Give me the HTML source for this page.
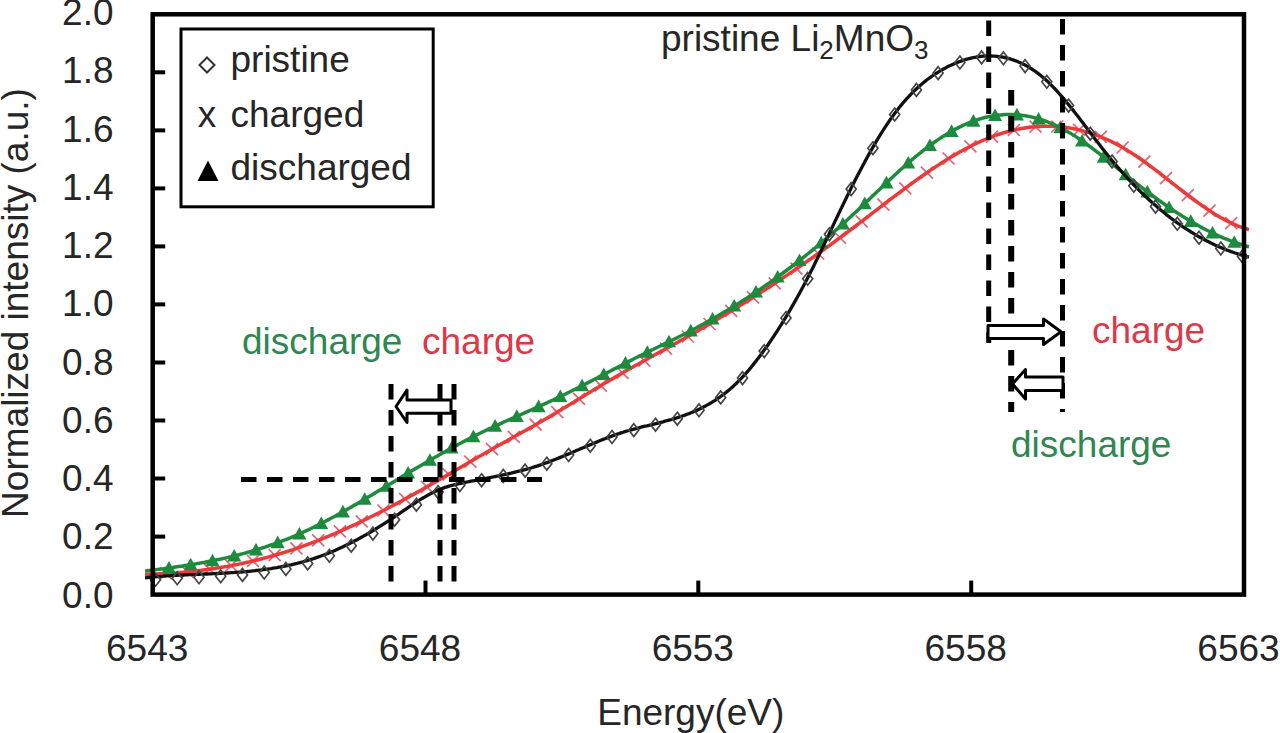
<!DOCTYPE html><html><head><meta charset="utf-8"><style>html,body{margin:0;padding:0;background:#fff;width:1280px;height:733px;overflow:hidden}svg{display:block}text{font-family:"Liberation Sans",sans-serif}</style></head><body>
<svg width="1280" height="733" viewBox="0 0 1280 733">
<rect width="1280" height="733" fill="#fff"/>
<path d="M160.0,567.5 L172.0,579.5 M160.0,579.5 L172.0,567.5" stroke="#e06676" stroke-width="1.7" fill="none"/>
<path d="M181.7,565.8 L193.7,577.8 M181.7,577.8 L193.7,565.8" stroke="#e06676" stroke-width="1.7" fill="none"/>
<path d="M203.5,563.2 L215.5,575.2 M203.5,575.2 L215.5,563.2" stroke="#e06676" stroke-width="1.7" fill="none"/>
<path d="M225.2,559.6 L237.2,571.6 M225.2,571.6 L237.2,559.6" stroke="#e06676" stroke-width="1.7" fill="none"/>
<path d="M247.0,555.0 L259.0,567.0 M247.0,567.0 L259.0,555.0" stroke="#e06676" stroke-width="1.7" fill="none"/>
<path d="M268.7,549.2 L280.7,561.2 M268.7,561.2 L280.7,549.2" stroke="#e06676" stroke-width="1.7" fill="none"/>
<path d="M290.4,542.4 L302.4,554.4 M290.4,554.4 L302.4,542.4" stroke="#e06676" stroke-width="1.7" fill="none"/>
<path d="M312.2,534.4 L324.2,546.4 M312.2,546.4 L324.2,534.4" stroke="#e06676" stroke-width="1.7" fill="none"/>
<path d="M333.9,525.3 L345.9,537.3 M333.9,537.3 L345.9,525.3" stroke="#e06676" stroke-width="1.7" fill="none"/>
<path d="M355.7,515.3 L367.7,527.3 M355.7,527.3 L367.7,515.3" stroke="#e06676" stroke-width="1.7" fill="none"/>
<path d="M377.4,504.5 L389.4,516.5 M377.4,516.5 L389.4,504.5" stroke="#e06676" stroke-width="1.7" fill="none"/>
<path d="M399.1,493.0 L411.1,505.0 M399.1,505.0 L411.1,493.0" stroke="#e06676" stroke-width="1.7" fill="none"/>
<path d="M420.9,480.8 L432.9,492.8 M420.9,492.8 L432.9,480.8" stroke="#e06676" stroke-width="1.7" fill="none"/>
<path d="M442.6,468.3 L454.6,480.3 M442.6,480.3 L454.6,468.3" stroke="#e06676" stroke-width="1.7" fill="none"/>
<path d="M464.4,455.6 L476.4,467.6 M464.4,467.6 L476.4,455.6" stroke="#e06676" stroke-width="1.7" fill="none"/>
<path d="M486.1,443.1 L498.1,455.1 M486.1,455.1 L498.1,443.1" stroke="#e06676" stroke-width="1.7" fill="none"/>
<path d="M507.8,430.9 L519.8,442.9 M507.8,442.9 L519.8,430.9" stroke="#e06676" stroke-width="1.7" fill="none"/>
<path d="M529.6,418.7 L541.6,430.7 M529.6,430.7 L541.6,418.7" stroke="#e06676" stroke-width="1.7" fill="none"/>
<path d="M551.3,406.1 L563.3,418.1 M551.3,418.1 L563.3,406.1" stroke="#e06676" stroke-width="1.7" fill="none"/>
<path d="M573.1,392.9 L585.1,404.9 M573.1,404.9 L585.1,392.9" stroke="#e06676" stroke-width="1.7" fill="none"/>
<path d="M594.8,379.6 L606.8,391.6 M594.8,391.6 L606.8,379.6" stroke="#e06676" stroke-width="1.7" fill="none"/>
<path d="M616.5,366.9 L628.5,378.9 M616.5,378.9 L628.5,366.9" stroke="#e06676" stroke-width="1.7" fill="none"/>
<path d="M638.3,354.6 L650.3,366.6 M638.3,366.6 L650.3,354.6" stroke="#e06676" stroke-width="1.7" fill="none"/>
<path d="M660.0,342.6 L672.0,354.6 M660.0,354.6 L672.0,342.6" stroke="#e06676" stroke-width="1.7" fill="none"/>
<path d="M681.8,330.5 L693.8,342.5 M681.8,342.5 L693.8,330.5" stroke="#e06676" stroke-width="1.7" fill="none"/>
<path d="M703.5,318.0 L715.5,330.0 M703.5,330.0 L715.5,318.0" stroke="#e06676" stroke-width="1.7" fill="none"/>
<path d="M725.2,304.9 L737.2,316.9 M725.2,316.9 L737.2,304.9" stroke="#e06676" stroke-width="1.7" fill="none"/>
<path d="M747.0,291.4 L759.0,303.4 M747.0,303.4 L759.0,291.4" stroke="#e06676" stroke-width="1.7" fill="none"/>
<path d="M768.7,277.3 L780.7,289.3 M768.7,289.3 L780.7,277.3" stroke="#e06676" stroke-width="1.7" fill="none"/>
<path d="M790.5,262.7 L802.5,274.7 M790.5,274.7 L802.5,262.7" stroke="#e06676" stroke-width="1.7" fill="none"/>
<path d="M812.2,247.5 L824.2,259.5 M812.2,259.5 L824.2,247.5" stroke="#e06676" stroke-width="1.7" fill="none"/>
<path d="M833.9,231.7 L845.9,243.7 M833.9,243.7 L845.9,231.7" stroke="#e06676" stroke-width="1.7" fill="none"/>
<path d="M855.7,215.4 L867.7,227.4 M855.7,227.4 L867.7,215.4" stroke="#e06676" stroke-width="1.7" fill="none"/>
<path d="M877.4,198.7 L889.4,210.7 M877.4,210.7 L889.4,198.7" stroke="#e06676" stroke-width="1.7" fill="none"/>
<path d="M899.2,182.3 L911.2,194.3 M899.2,194.3 L911.2,182.3" stroke="#e06676" stroke-width="1.7" fill="none"/>
<path d="M920.9,166.7 L932.9,178.7 M920.9,178.7 L932.9,166.7" stroke="#e06676" stroke-width="1.7" fill="none"/>
<path d="M942.6,152.5 L954.6,164.5 M942.6,164.5 L954.6,152.5" stroke="#e06676" stroke-width="1.7" fill="none"/>
<path d="M964.4,140.3 L976.4,152.3 M964.4,152.3 L976.4,140.3" stroke="#e06676" stroke-width="1.7" fill="none"/>
<path d="M986.1,130.7 L998.1,142.7 M986.1,142.7 L998.1,130.7" stroke="#e06676" stroke-width="1.7" fill="none"/>
<path d="M1007.9,124.0 L1019.9,136.0 M1007.9,136.0 L1019.9,124.0" stroke="#e06676" stroke-width="1.7" fill="none"/>
<path d="M1029.6,120.6 L1041.6,132.6 M1029.6,132.6 L1041.6,120.6" stroke="#e06676" stroke-width="1.7" fill="none"/>
<path d="M1051.3,120.5 L1063.3,132.5 M1051.3,132.5 L1063.3,120.5" stroke="#e06676" stroke-width="1.7" fill="none"/>
<path d="M1073.1,123.9 L1085.1,135.9 M1073.1,135.9 L1085.1,123.9" stroke="#e06676" stroke-width="1.7" fill="none"/>
<path d="M1094.8,130.9 L1106.8,142.9 M1094.8,142.9 L1106.8,130.9" stroke="#e06676" stroke-width="1.7" fill="none"/>
<path d="M1116.6,141.5 L1128.6,153.5 M1116.6,153.5 L1128.6,141.5" stroke="#e06676" stroke-width="1.7" fill="none"/>
<path d="M1138.3,155.7 L1150.3,167.7 M1138.3,167.7 L1150.3,155.7" stroke="#e06676" stroke-width="1.7" fill="none"/>
<path d="M1160.0,172.2 L1172.0,184.2 M1160.0,184.2 L1172.0,172.2" stroke="#e06676" stroke-width="1.7" fill="none"/>
<path d="M1181.8,189.1 L1193.8,201.1 M1181.8,201.1 L1193.8,189.1" stroke="#e06676" stroke-width="1.7" fill="none"/>
<path d="M1203.5,204.7 L1215.5,216.7 M1203.5,216.7 L1215.5,204.7" stroke="#e06676" stroke-width="1.7" fill="none"/>
<path d="M1225.3,217.1 L1237.3,229.1 M1225.3,229.1 L1237.3,217.1" stroke="#e06676" stroke-width="1.7" fill="none"/>
<path d="M145.0,574.2 L147.0,574.2 L149.0,574.2 L151.0,574.1 L153.0,574.0 L155.0,574.0 L157.0,573.9 L159.0,573.8 L161.0,573.7 L163.0,573.6 L165.0,573.5 L167.0,573.4 L169.0,573.3 L171.0,573.2 L173.0,573.1 L175.0,572.9 L177.0,572.8 L179.0,572.6 L181.0,572.4 L183.0,572.3 L185.0,572.1 L187.0,571.9 L189.0,571.7 L191.0,571.5 L193.0,571.3 L195.0,571.1 L197.0,570.8 L199.0,570.6 L201.0,570.4 L203.0,570.1 L205.0,569.8 L207.0,569.6 L209.0,569.3 L211.0,569.0 L213.0,568.7 L215.0,568.4 L217.0,568.1 L219.0,567.8 L221.0,567.4 L223.0,567.1 L225.0,566.7 L227.0,566.4 L229.0,566.0 L231.0,565.7 L233.0,565.3 L235.0,564.9 L237.0,564.5 L239.0,564.1 L241.0,563.7 L243.0,563.2 L245.0,562.8 L247.0,562.3 L249.0,561.9 L251.0,561.4 L253.0,561.0 L255.0,560.5 L257.0,560.0 L259.0,559.5 L261.0,559.0 L263.0,558.5 L265.0,557.9 L267.0,557.4 L269.0,556.9 L271.0,556.3 L273.0,555.7 L275.0,555.2 L277.0,554.6 L279.0,554.0 L281.0,553.4 L283.0,552.8 L285.0,552.1 L287.0,551.5 L289.0,550.9 L291.0,550.2 L293.0,549.6 L295.0,548.9 L297.0,548.2 L299.0,547.5 L301.0,546.8 L303.0,546.1 L305.0,545.4 L307.0,544.6 L309.0,543.9 L311.0,543.2 L313.0,542.4 L315.0,541.6 L317.0,540.9 L319.0,540.1 L321.0,539.3 L323.0,538.5 L325.0,537.7 L327.0,536.8 L329.0,536.0 L331.0,535.2 L333.0,534.3 L335.0,533.5 L337.0,532.6 L339.0,531.7 L341.0,530.9 L343.0,530.0 L345.0,529.1 L347.0,528.2 L349.0,527.3 L351.0,526.3 L353.0,525.4 L355.0,524.5 L357.0,523.6 L359.0,522.6 L361.0,521.6 L363.0,520.7 L365.0,519.7 L367.0,518.7 L369.0,517.8 L371.0,516.8 L373.0,515.8 L375.0,514.8 L377.0,513.8 L379.0,512.8 L381.0,511.7 L383.0,510.7 L385.0,509.7 L387.0,508.6 L389.0,507.6 L391.0,506.5 L393.0,505.5 L395.0,504.4 L397.0,503.4 L399.0,502.3 L401.0,501.2 L403.0,500.1 L405.0,499.0 L407.0,497.9 L409.0,496.8 L411.0,495.7 L413.0,494.6 L415.0,493.5 L417.0,492.4 L419.0,491.3 L421.0,490.2 L423.0,489.0 L425.0,487.9 L427.0,486.8 L429.0,485.6 L431.0,484.5 L433.0,483.3 L435.0,482.2 L437.0,481.0 L439.0,479.9 L441.0,478.7 L443.0,477.6 L445.0,476.4 L447.0,475.2 L449.0,474.1 L451.0,472.9 L453.0,471.7 L455.0,470.6 L457.0,469.4 L459.0,468.2 L461.0,467.1 L463.0,465.9 L465.0,464.7 L467.0,463.6 L469.0,462.4 L471.0,461.2 L473.0,460.1 L475.0,458.9 L477.0,457.8 L479.0,456.6 L481.0,455.5 L483.0,454.3 L485.0,453.2 L487.0,452.0 L489.0,450.9 L491.0,449.7 L493.0,448.6 L495.0,447.5 L497.0,446.3 L499.0,445.2 L501.0,444.1 L503.0,443.0 L505.0,441.9 L507.0,440.7 L509.0,439.6 L511.0,438.5 L513.0,437.4 L515.0,436.3 L517.0,435.2 L519.0,434.0 L521.0,432.9 L523.0,431.8 L525.0,430.7 L527.0,429.6 L529.0,428.4 L531.0,427.3 L533.0,426.2 L535.0,425.1 L537.0,423.9 L539.0,422.8 L541.0,421.6 L543.0,420.5 L545.0,419.3 L547.0,418.2 L549.0,417.0 L551.0,415.8 L553.0,414.6 L555.0,413.4 L557.0,412.3 L559.0,411.1 L561.0,409.9 L563.0,408.6 L565.0,407.4 L567.0,406.2 L569.0,405.0 L571.0,403.8 L573.0,402.6 L575.0,401.3 L577.0,400.1 L579.0,398.9 L581.0,397.7 L583.0,396.4 L585.0,395.2 L587.0,394.0 L589.0,392.8 L591.0,391.6 L593.0,390.3 L595.0,389.1 L597.0,387.9 L599.0,386.7 L601.0,385.5 L603.0,384.3 L605.0,383.1 L607.0,381.9 L609.0,380.7 L611.0,379.5 L613.0,378.4 L615.0,377.2 L617.0,376.0 L619.0,374.9 L621.0,373.7 L623.0,372.6 L625.0,371.4 L627.0,370.3 L629.0,369.2 L631.0,368.1 L633.0,366.9 L635.0,365.8 L637.0,364.7 L639.0,363.6 L641.0,362.5 L643.0,361.3 L645.0,360.2 L647.0,359.1 L649.0,358.0 L651.0,356.9 L653.0,355.8 L655.0,354.7 L657.0,353.6 L659.0,352.5 L661.0,351.4 L663.0,350.3 L665.0,349.2 L667.0,348.1 L669.0,347.0 L671.0,345.9 L673.0,344.8 L675.0,343.7 L677.0,342.6 L679.0,341.4 L681.0,340.3 L683.0,339.2 L685.0,338.1 L687.0,336.9 L689.0,335.8 L691.0,334.7 L693.0,333.5 L695.0,332.4 L697.0,331.2 L699.0,330.1 L701.0,328.9 L703.0,327.8 L705.0,326.6 L707.0,325.4 L709.0,324.3 L711.0,323.1 L713.0,321.9 L715.0,320.7 L717.0,319.5 L719.0,318.3 L721.0,317.1 L723.0,315.9 L725.0,314.7 L727.0,313.5 L729.0,312.3 L731.0,311.1 L733.0,309.9 L735.0,308.6 L737.0,307.4 L739.0,306.2 L741.0,304.9 L743.0,303.7 L745.0,302.4 L747.0,301.2 L749.0,299.9 L751.0,298.7 L753.0,297.4 L755.0,296.1 L757.0,294.8 L759.0,293.6 L761.0,292.3 L763.0,291.0 L765.0,289.7 L767.0,288.4 L769.0,287.1 L771.0,285.8 L773.0,284.5 L775.0,283.2 L777.0,281.8 L779.0,280.5 L781.0,279.2 L783.0,277.8 L785.0,276.5 L787.0,275.1 L789.0,273.8 L791.0,272.4 L793.0,271.1 L795.0,269.7 L797.0,268.3 L799.0,267.0 L801.0,265.6 L803.0,264.2 L805.0,262.8 L807.0,261.4 L809.0,260.0 L811.0,258.6 L813.0,257.2 L815.0,255.8 L817.0,254.4 L819.0,253.0 L821.0,251.5 L823.0,250.1 L825.0,248.7 L827.0,247.2 L829.0,245.8 L831.0,244.3 L833.0,242.9 L835.0,241.4 L837.0,239.9 L839.0,238.4 L841.0,237.0 L843.0,235.5 L845.0,234.0 L847.0,232.5 L849.0,231.0 L851.0,229.5 L853.0,228.0 L855.0,226.5 L857.0,224.9 L859.0,223.4 L861.0,221.9 L863.0,220.4 L865.0,218.8 L867.0,217.3 L869.0,215.8 L871.0,214.2 L873.0,212.7 L875.0,211.2 L877.0,209.6 L879.0,208.1 L881.0,206.5 L883.0,205.0 L885.0,203.5 L887.0,202.0 L889.0,200.4 L891.0,198.9 L893.0,197.4 L895.0,195.9 L897.0,194.4 L899.0,192.9 L901.0,191.4 L903.0,189.9 L905.0,188.4 L907.0,186.9 L909.0,185.4 L911.0,184.0 L913.0,182.5 L915.0,181.1 L917.0,179.6 L919.0,178.2 L921.0,176.8 L923.0,175.4 L925.0,174.0 L927.0,172.6 L929.0,171.3 L931.0,169.9 L933.0,168.5 L935.0,167.2 L937.0,165.9 L939.0,164.6 L941.0,163.3 L943.0,162.0 L945.0,160.8 L947.0,159.5 L949.0,158.3 L951.0,157.1 L953.0,155.9 L955.0,154.7 L957.0,153.6 L959.0,152.4 L961.0,151.3 L963.0,150.2 L965.0,149.1 L967.0,148.1 L969.0,147.0 L971.0,146.0 L973.0,145.0 L975.0,144.0 L977.0,143.1 L979.0,142.2 L981.0,141.2 L983.0,140.4 L985.0,139.5 L987.0,138.7 L989.0,137.9 L991.0,137.1 L993.0,136.3 L995.0,135.6 L997.0,134.9 L999.0,134.2 L1001.0,133.6 L1003.0,133.0 L1005.0,132.4 L1007.0,131.8 L1009.0,131.3 L1011.0,130.7 L1013.0,130.2 L1015.0,129.8 L1017.0,129.4 L1019.0,128.9 L1021.0,128.6 L1023.0,128.2 L1025.0,127.9 L1027.0,127.6 L1029.0,127.3 L1031.0,127.1 L1033.0,126.9 L1035.0,126.7 L1037.0,126.5 L1039.0,126.4 L1041.0,126.3 L1043.0,126.2 L1045.0,126.2 L1047.0,126.2 L1049.0,126.2 L1051.0,126.2 L1053.0,126.3 L1055.0,126.4 L1057.0,126.5 L1059.0,126.7 L1061.0,126.9 L1063.0,127.1 L1065.0,127.3 L1067.0,127.6 L1069.0,127.9 L1071.0,128.3 L1073.0,128.6 L1075.0,129.0 L1077.0,129.4 L1079.0,129.9 L1081.0,130.4 L1083.0,130.9 L1085.0,131.4 L1087.0,132.0 L1089.0,132.6 L1091.0,133.3 L1093.0,133.9 L1095.0,134.6 L1097.0,135.4 L1099.0,136.1 L1101.0,136.9 L1103.0,137.8 L1105.0,138.6 L1107.0,139.5 L1109.0,140.4 L1111.0,141.4 L1113.0,142.4 L1115.0,143.4 L1117.0,144.4 L1119.0,145.5 L1121.0,146.6 L1123.0,147.7 L1125.0,148.9 L1127.0,150.1 L1129.0,151.4 L1131.0,152.6 L1133.0,153.9 L1135.0,155.3 L1137.0,156.6 L1139.0,158.0 L1141.0,159.4 L1143.0,160.8 L1145.0,162.2 L1147.0,163.7 L1149.0,165.2 L1151.0,166.7 L1153.0,168.2 L1155.0,169.7 L1157.0,171.2 L1159.0,172.7 L1161.0,174.3 L1163.0,175.8 L1165.0,177.4 L1167.0,179.0 L1169.0,180.5 L1171.0,182.1 L1173.0,183.7 L1175.0,185.2 L1177.0,186.8 L1179.0,188.3 L1181.0,189.9 L1183.0,191.5 L1185.0,193.0 L1187.0,194.5 L1189.0,196.0 L1191.0,197.5 L1193.0,199.0 L1195.0,200.5 L1197.0,202.0 L1199.0,203.4 L1201.0,204.8 L1203.0,206.3 L1205.0,207.6 L1207.0,209.0 L1209.0,210.3 L1211.0,211.6 L1213.0,212.9 L1215.0,214.2 L1217.0,215.4 L1219.0,216.6 L1221.0,217.7 L1223.0,218.8 L1225.0,219.9 L1227.0,221.0 L1229.0,222.0 L1231.0,222.9 L1233.0,223.9 L1235.0,224.7 L1237.0,225.6 L1239.0,226.4 L1241.0,227.1 L1243.0,227.8 L1245.0,228.4 L1247.0,229.0 L1249.0,229.6" fill="none" stroke="#ea3a3a" stroke-width="3.5" stroke-linejoin="round"/>
<path d="M145.0,571.0 L147.0,570.8 L149.0,570.5 L151.0,570.3 L153.0,570.0 L155.0,569.8 L157.0,569.5 L159.0,569.3 L161.0,569.0 L163.0,568.8 L165.0,568.5 L167.0,568.2 L169.0,568.0 L171.0,567.7 L173.0,567.4 L175.0,567.1 L177.0,566.8 L179.0,566.5 L181.0,566.2 L183.0,565.9 L185.0,565.6 L187.0,565.3 L189.0,565.0 L191.0,564.7 L193.0,564.3 L195.0,564.0 L197.0,563.6 L199.0,563.3 L201.0,562.9 L203.0,562.6 L205.0,562.2 L207.0,561.8 L209.0,561.4 L211.0,561.0 L213.0,560.6 L215.0,560.2 L217.0,559.8 L219.0,559.4 L221.0,559.0 L223.0,558.5 L225.0,558.1 L227.0,557.6 L229.0,557.1 L231.0,556.7 L233.0,556.2 L235.0,555.7 L237.0,555.2 L239.0,554.7 L241.0,554.1 L243.0,553.6 L245.0,553.1 L247.0,552.5 L249.0,552.0 L251.0,551.4 L253.0,550.8 L255.0,550.2 L257.0,549.6 L259.0,549.0 L261.0,548.4 L263.0,547.7 L265.0,547.1 L267.0,546.4 L269.0,545.7 L271.0,545.0 L273.0,544.3 L275.0,543.6 L277.0,542.9 L279.0,542.2 L281.0,541.4 L283.0,540.6 L285.0,539.9 L287.0,539.1 L289.0,538.3 L291.0,537.5 L293.0,536.6 L295.0,535.8 L297.0,534.9 L299.0,534.0 L301.0,533.2 L303.0,532.3 L305.0,531.3 L307.0,530.4 L309.0,529.5 L311.0,528.5 L313.0,527.5 L315.0,526.6 L317.0,525.6 L319.0,524.6 L321.0,523.6 L323.0,522.5 L325.0,521.5 L327.0,520.4 L329.0,519.4 L331.0,518.3 L333.0,517.2 L335.0,516.2 L337.0,515.1 L339.0,514.0 L341.0,512.9 L343.0,511.7 L345.0,510.6 L347.0,509.5 L349.0,508.3 L351.0,507.2 L353.0,506.0 L355.0,504.9 L357.0,503.7 L359.0,502.6 L361.0,501.4 L363.0,500.2 L365.0,499.0 L367.0,497.8 L369.0,496.6 L371.0,495.4 L373.0,494.2 L375.0,493.0 L377.0,491.8 L379.0,490.6 L381.0,489.4 L383.0,488.2 L385.0,487.0 L387.0,485.8 L389.0,484.6 L391.0,483.4 L393.0,482.2 L395.0,481.0 L397.0,479.8 L399.0,478.5 L401.0,477.3 L403.0,476.1 L405.0,474.9 L407.0,473.7 L409.0,472.5 L411.0,471.3 L413.0,470.1 L415.0,468.9 L417.0,467.8 L419.0,466.6 L421.0,465.4 L423.0,464.2 L425.0,463.1 L427.0,461.9 L429.0,460.7 L431.0,459.6 L433.0,458.4 L435.0,457.3 L437.0,456.2 L439.0,455.0 L441.0,453.9 L443.0,452.8 L445.0,451.7 L447.0,450.6 L449.0,449.5 L451.0,448.4 L453.0,447.3 L455.0,446.2 L457.0,445.1 L459.0,444.0 L461.0,443.0 L463.0,441.9 L465.0,440.9 L467.0,439.8 L469.0,438.8 L471.0,437.8 L473.0,436.8 L475.0,435.8 L477.0,434.8 L479.0,433.8 L481.0,432.8 L483.0,431.8 L485.0,430.8 L487.0,429.9 L489.0,428.9 L491.0,428.0 L493.0,427.0 L495.0,426.1 L497.0,425.2 L499.0,424.3 L501.0,423.4 L503.0,422.4 L505.0,421.5 L507.0,420.7 L509.0,419.8 L511.0,418.9 L513.0,418.0 L515.0,417.1 L517.0,416.2 L519.0,415.3 L521.0,414.5 L523.0,413.6 L525.0,412.7 L527.0,411.8 L529.0,410.9 L531.0,410.0 L533.0,409.1 L535.0,408.2 L537.0,407.3 L539.0,406.4 L541.0,405.5 L543.0,404.6 L545.0,403.7 L547.0,402.8 L549.0,401.8 L551.0,400.9 L553.0,400.0 L555.0,399.0 L557.0,398.1 L559.0,397.1 L561.0,396.1 L563.0,395.2 L565.0,394.2 L567.0,393.2 L569.0,392.2 L571.0,391.2 L573.0,390.2 L575.0,389.2 L577.0,388.2 L579.0,387.2 L581.0,386.2 L583.0,385.2 L585.0,384.2 L587.0,383.1 L589.0,382.1 L591.0,381.1 L593.0,380.0 L595.0,379.0 L597.0,378.0 L599.0,376.9 L601.0,375.9 L603.0,374.8 L605.0,373.8 L607.0,372.8 L609.0,371.7 L611.0,370.7 L613.0,369.6 L615.0,368.6 L617.0,367.6 L619.0,366.5 L621.0,365.5 L623.0,364.5 L625.0,363.4 L627.0,362.4 L629.0,361.4 L631.0,360.4 L633.0,359.3 L635.0,358.3 L637.0,357.3 L639.0,356.3 L641.0,355.3 L643.0,354.3 L645.0,353.4 L647.0,352.4 L649.0,351.4 L651.0,350.4 L653.0,349.5 L655.0,348.5 L657.0,347.5 L659.0,346.5 L661.0,345.6 L663.0,344.6 L665.0,343.6 L667.0,342.7 L669.0,341.7 L671.0,340.7 L673.0,339.7 L675.0,338.7 L677.0,337.8 L679.0,336.8 L681.0,335.8 L683.0,334.8 L685.0,333.7 L687.0,332.7 L689.0,331.7 L691.0,330.6 L693.0,329.6 L695.0,328.5 L697.0,327.5 L699.0,326.4 L701.0,325.3 L703.0,324.2 L705.0,323.1 L707.0,322.0 L709.0,320.9 L711.0,319.8 L713.0,318.6 L715.0,317.5 L717.0,316.3 L719.0,315.2 L721.0,314.0 L723.0,312.8 L725.0,311.6 L727.0,310.4 L729.0,309.2 L731.0,308.0 L733.0,306.8 L735.0,305.6 L737.0,304.3 L739.0,303.1 L741.0,301.8 L743.0,300.5 L745.0,299.2 L747.0,298.0 L749.0,296.7 L751.0,295.3 L753.0,294.0 L755.0,292.7 L757.0,291.3 L759.0,290.0 L761.0,288.6 L763.0,287.3 L765.0,285.9 L767.0,284.5 L769.0,283.1 L771.0,281.7 L773.0,280.3 L775.0,278.8 L777.0,277.4 L779.0,275.9 L781.0,274.5 L783.0,273.0 L785.0,271.5 L787.0,270.0 L789.0,268.5 L791.0,267.0 L793.0,265.5 L795.0,264.0 L797.0,262.4 L799.0,260.8 L801.0,259.3 L803.0,257.7 L805.0,256.1 L807.0,254.5 L809.0,252.9 L811.0,251.3 L813.0,249.6 L815.0,248.0 L817.0,246.3 L819.0,244.7 L821.0,243.0 L823.0,241.3 L825.0,239.6 L827.0,237.9 L829.0,236.2 L831.0,234.4 L833.0,232.7 L835.0,230.9 L837.0,229.2 L839.0,227.4 L841.0,225.6 L843.0,223.8 L845.0,222.0 L847.0,220.2 L849.0,218.3 L851.0,216.5 L853.0,214.6 L855.0,212.7 L857.0,210.9 L859.0,209.0 L861.0,207.1 L863.0,205.2 L865.0,203.3 L867.0,201.3 L869.0,199.4 L871.0,197.5 L873.0,195.6 L875.0,193.7 L877.0,191.8 L879.0,189.9 L881.0,188.0 L883.0,186.1 L885.0,184.2 L887.0,182.3 L889.0,180.4 L891.0,178.5 L893.0,176.7 L895.0,174.8 L897.0,173.0 L899.0,171.1 L901.0,169.3 L903.0,167.5 L905.0,165.8 L907.0,164.0 L909.0,162.3 L911.0,160.5 L913.0,158.8 L915.0,157.2 L917.0,155.5 L919.0,153.9 L921.0,152.3 L923.0,150.7 L925.0,149.1 L927.0,147.6 L929.0,146.1 L931.0,144.7 L933.0,143.2 L935.0,141.8 L937.0,140.4 L939.0,139.1 L941.0,137.8 L943.0,136.5 L945.0,135.2 L947.0,134.0 L949.0,132.8 L951.0,131.6 L953.0,130.5 L955.0,129.4 L957.0,128.4 L959.0,127.3 L961.0,126.4 L963.0,125.4 L965.0,124.5 L967.0,123.6 L969.0,122.8 L971.0,122.0 L973.0,121.2 L975.0,120.5 L977.0,119.8 L979.0,119.2 L981.0,118.6 L983.0,118.0 L985.0,117.5 L987.0,117.0 L989.0,116.6 L991.0,116.2 L993.0,115.9 L995.0,115.5 L997.0,115.3 L999.0,115.1 L1001.0,114.9 L1003.0,114.7 L1005.0,114.6 L1007.0,114.5 L1009.0,114.5 L1011.0,114.5 L1013.0,114.6 L1015.0,114.7 L1017.0,114.8 L1019.0,115.0 L1021.0,115.2 L1023.0,115.5 L1025.0,115.8 L1027.0,116.1 L1029.0,116.5 L1031.0,116.9 L1033.0,117.4 L1035.0,117.9 L1037.0,118.4 L1039.0,119.0 L1041.0,119.6 L1043.0,120.2 L1045.0,120.9 L1047.0,121.7 L1049.0,122.5 L1051.0,123.3 L1053.0,124.1 L1055.0,125.0 L1057.0,126.0 L1059.0,126.9 L1061.0,128.0 L1063.0,129.0 L1065.0,130.1 L1067.0,131.2 L1069.0,132.4 L1071.0,133.6 L1073.0,134.9 L1075.0,136.1 L1077.0,137.4 L1079.0,138.8 L1081.0,140.1 L1083.0,141.5 L1085.0,142.9 L1087.0,144.3 L1089.0,145.8 L1091.0,147.3 L1093.0,148.8 L1095.0,150.3 L1097.0,151.8 L1099.0,153.4 L1101.0,154.9 L1103.0,156.5 L1105.0,158.1 L1107.0,159.7 L1109.0,161.3 L1111.0,162.9 L1113.0,164.5 L1115.0,166.1 L1117.0,167.8 L1119.0,169.4 L1121.0,171.0 L1123.0,172.6 L1125.0,174.2 L1127.0,175.9 L1129.0,177.5 L1131.0,179.1 L1133.0,180.7 L1135.0,182.3 L1137.0,183.8 L1139.0,185.4 L1141.0,187.0 L1143.0,188.5 L1145.0,190.0 L1147.0,191.5 L1149.0,193.1 L1151.0,194.5 L1153.0,196.0 L1155.0,197.5 L1157.0,199.0 L1159.0,200.4 L1161.0,201.8 L1163.0,203.2 L1165.0,204.7 L1167.0,206.0 L1169.0,207.4 L1171.0,208.8 L1173.0,210.1 L1175.0,211.4 L1177.0,212.7 L1179.0,214.0 L1181.0,215.3 L1183.0,216.6 L1185.0,217.8 L1187.0,219.0 L1189.0,220.2 L1191.0,221.4 L1193.0,222.6 L1195.0,223.8 L1197.0,224.9 L1199.0,226.0 L1201.0,227.1 L1203.0,228.2 L1205.0,229.2 L1207.0,230.3 L1209.0,231.3 L1211.0,232.3 L1213.0,233.2 L1215.0,234.2 L1217.0,235.1 L1219.0,236.0 L1221.0,236.9 L1223.0,237.8 L1225.0,238.6 L1227.0,239.4 L1229.0,240.2 L1231.0,241.0 L1233.0,241.7 L1235.0,242.4 L1237.0,243.1 L1239.0,243.8 L1241.0,244.4 L1243.0,245.0 L1245.0,245.6 L1247.0,246.2 L1249.0,246.7" fill="none" stroke="#1d8a3e" stroke-width="3.5" stroke-linejoin="round"/>
<path d="M169.0,561.0 L176.0,573.6 L162.0,573.6 Z" fill="#1d8a3e"/>
<path d="M190.7,557.7 L197.7,570.3 L183.7,570.3 Z" fill="#1d8a3e"/>
<path d="M212.5,553.7 L219.5,566.3 L205.5,566.3 Z" fill="#1d8a3e"/>
<path d="M234.2,548.9 L241.2,561.5 L227.2,561.5 Z" fill="#1d8a3e"/>
<path d="M256.0,542.9 L263.0,555.5 L249.0,555.5 Z" fill="#1d8a3e"/>
<path d="M277.7,535.6 L284.7,548.2 L270.7,548.2 Z" fill="#1d8a3e"/>
<path d="M299.4,526.9 L306.4,539.5 L292.4,539.5 Z" fill="#1d8a3e"/>
<path d="M321.2,516.5 L328.2,529.1 L314.2,529.1 Z" fill="#1d8a3e"/>
<path d="M342.9,504.8 L349.9,517.4 L335.9,517.4 Z" fill="#1d8a3e"/>
<path d="M364.7,492.2 L371.7,504.8 L357.7,504.8 Z" fill="#1d8a3e"/>
<path d="M386.4,479.2 L393.4,491.8 L379.4,491.8 Z" fill="#1d8a3e"/>
<path d="M408.1,466.0 L415.1,478.6 L401.1,478.6 Z" fill="#1d8a3e"/>
<path d="M429.9,453.2 L436.9,465.8 L422.9,465.8 Z" fill="#1d8a3e"/>
<path d="M451.6,441.0 L458.6,453.6 L444.6,453.6 Z" fill="#1d8a3e"/>
<path d="M473.4,429.6 L480.4,442.2 L466.4,442.2 Z" fill="#1d8a3e"/>
<path d="M495.1,419.1 L502.1,431.7 L488.1,431.7 Z" fill="#1d8a3e"/>
<path d="M516.8,409.3 L523.8,421.9 L509.8,421.9 Z" fill="#1d8a3e"/>
<path d="M538.6,399.6 L545.6,412.2 L531.6,412.2 Z" fill="#1d8a3e"/>
<path d="M560.3,389.5 L567.3,402.1 L553.3,402.1 Z" fill="#1d8a3e"/>
<path d="M582.1,378.7 L589.1,391.3 L575.1,391.3 Z" fill="#1d8a3e"/>
<path d="M603.8,367.4 L610.8,380.0 L596.8,380.0 Z" fill="#1d8a3e"/>
<path d="M625.5,356.1 L632.5,368.7 L618.5,368.7 Z" fill="#1d8a3e"/>
<path d="M647.3,345.2 L654.3,357.8 L640.3,357.8 Z" fill="#1d8a3e"/>
<path d="M669.0,334.7 L676.0,347.3 L662.0,347.3 Z" fill="#1d8a3e"/>
<path d="M690.8,323.8 L697.8,336.4 L683.8,336.4 Z" fill="#1d8a3e"/>
<path d="M712.5,311.9 L719.5,324.5 L705.5,324.5 Z" fill="#1d8a3e"/>
<path d="M734.2,299.0 L741.2,311.6 L727.2,311.6 Z" fill="#1d8a3e"/>
<path d="M756.0,285.0 L763.0,297.6 L749.0,297.6 Z" fill="#1d8a3e"/>
<path d="M777.7,269.9 L784.7,282.5 L770.7,282.5 Z" fill="#1d8a3e"/>
<path d="M799.5,253.5 L806.5,266.1 L792.5,266.1 Z" fill="#1d8a3e"/>
<path d="M821.2,235.8 L828.2,248.4 L814.2,248.4 Z" fill="#1d8a3e"/>
<path d="M842.9,216.9 L849.9,229.5 L835.9,229.5 Z" fill="#1d8a3e"/>
<path d="M864.7,196.6 L871.7,209.2 L857.7,209.2 Z" fill="#1d8a3e"/>
<path d="M886.4,175.8 L893.4,188.4 L879.4,188.4 Z" fill="#1d8a3e"/>
<path d="M908.2,156.0 L915.2,168.6 L901.2,168.6 Z" fill="#1d8a3e"/>
<path d="M929.9,138.5 L936.9,151.1 L922.9,151.1 Z" fill="#1d8a3e"/>
<path d="M951.6,124.3 L958.6,136.9 L944.6,136.9 Z" fill="#1d8a3e"/>
<path d="M973.4,114.1 L980.4,126.7 L966.4,126.7 Z" fill="#1d8a3e"/>
<path d="M995.1,108.5 L1002.1,121.1 L988.1,121.1 Z" fill="#1d8a3e"/>
<path d="M1016.9,107.8 L1023.9,120.4 L1009.9,120.4 Z" fill="#1d8a3e"/>
<path d="M1038.6,111.9 L1045.6,124.5 L1031.6,124.5 Z" fill="#1d8a3e"/>
<path d="M1060.3,120.6 L1067.3,133.2 L1053.3,133.2 Z" fill="#1d8a3e"/>
<path d="M1082.1,133.9 L1089.1,146.5 L1075.1,146.5 Z" fill="#1d8a3e"/>
<path d="M1103.8,150.1 L1110.8,162.7 L1096.8,162.7 Z" fill="#1d8a3e"/>
<path d="M1125.6,167.7 L1132.6,180.3 L1118.6,180.3 Z" fill="#1d8a3e"/>
<path d="M1147.3,184.8 L1154.3,197.4 L1140.3,197.4 Z" fill="#1d8a3e"/>
<path d="M1169.0,200.4 L1176.0,213.0 L1162.0,213.0 Z" fill="#1d8a3e"/>
<path d="M1190.8,214.3 L1197.8,226.9 L1183.8,226.9 Z" fill="#1d8a3e"/>
<path d="M1212.5,226.0 L1219.5,238.6 L1205.5,238.6 Z" fill="#1d8a3e"/>
<path d="M1234.3,235.2 L1241.3,247.8 L1227.3,247.8 Z" fill="#1d8a3e"/>
<path d="M145.0,577.8 L147.0,577.6 L149.0,577.4 L151.0,577.2 L153.0,577.0 L155.0,576.8 L157.0,576.6 L159.0,576.5 L161.0,576.3 L163.0,576.2 L165.0,576.0 L167.0,575.9 L169.0,575.8 L171.0,575.7 L173.0,575.5 L175.0,575.4 L177.0,575.3 L179.0,575.2 L181.0,575.1 L183.0,575.0 L185.0,574.9 L187.0,574.8 L189.0,574.7 L191.0,574.6 L193.0,574.6 L195.0,574.5 L197.0,574.4 L199.0,574.3 L201.0,574.2 L203.0,574.1 L205.0,574.0 L207.0,574.0 L209.0,573.9 L211.0,573.8 L213.0,573.7 L215.0,573.6 L217.0,573.5 L219.0,573.4 L221.0,573.3 L223.0,573.2 L225.0,573.1 L227.0,573.0 L229.0,572.8 L231.0,572.7 L233.0,572.6 L235.0,572.4 L237.0,572.3 L239.0,572.1 L241.0,572.0 L243.0,571.8 L245.0,571.6 L247.0,571.5 L249.0,571.3 L251.0,571.1 L253.0,570.9 L255.0,570.7 L257.0,570.4 L259.0,570.2 L261.0,570.0 L263.0,569.7 L265.0,569.4 L267.0,569.2 L269.0,568.9 L271.0,568.6 L273.0,568.2 L275.0,567.9 L277.0,567.6 L279.0,567.2 L281.0,566.8 L283.0,566.5 L285.0,566.1 L287.0,565.7 L289.0,565.2 L291.0,564.8 L293.0,564.3 L295.0,563.8 L297.0,563.4 L299.0,562.8 L301.0,562.3 L303.0,561.8 L305.0,561.2 L307.0,560.6 L309.0,560.0 L311.0,559.4 L313.0,558.8 L315.0,558.1 L317.0,557.4 L319.0,556.7 L321.0,556.0 L323.0,555.3 L325.0,554.5 L327.0,553.7 L329.0,552.9 L331.0,552.1 L333.0,551.3 L335.0,550.4 L337.0,549.5 L339.0,548.6 L341.0,547.7 L343.0,546.8 L345.0,545.8 L347.0,544.8 L349.0,543.8 L351.0,542.8 L353.0,541.8 L355.0,540.7 L357.0,539.7 L359.0,538.6 L361.0,537.5 L363.0,536.4 L365.0,535.3 L367.0,534.1 L369.0,533.0 L371.0,531.8 L373.0,530.6 L375.0,529.4 L377.0,528.1 L379.0,526.9 L381.0,525.7 L383.0,524.4 L385.0,523.1 L387.0,521.8 L389.0,520.5 L391.0,519.2 L393.0,517.8 L395.0,516.5 L397.0,515.1 L399.0,513.8 L401.0,512.4 L403.0,511.0 L405.0,509.7 L407.0,508.3 L409.0,506.9 L411.0,505.6 L413.0,504.3 L415.0,503.0 L417.0,501.7 L419.0,500.4 L421.0,499.2 L423.0,498.0 L425.0,496.8 L427.0,495.6 L429.0,494.5 L431.0,493.5 L433.0,492.5 L435.0,491.5 L437.0,490.6 L439.0,489.7 L441.0,488.9 L443.0,488.1 L445.0,487.4 L447.0,486.8 L449.0,486.2 L451.0,485.6 L453.0,485.1 L455.0,484.6 L457.0,484.1 L459.0,483.7 L461.0,483.3 L463.0,482.8 L465.0,482.4 L467.0,482.0 L469.0,481.6 L471.0,481.2 L473.0,480.8 L475.0,480.5 L477.0,480.1 L479.0,479.7 L481.0,479.3 L483.0,478.9 L485.0,478.5 L487.0,478.2 L489.0,477.8 L491.0,477.4 L493.0,477.0 L495.0,476.6 L497.0,476.2 L499.0,475.8 L501.0,475.4 L503.0,474.9 L505.0,474.5 L507.0,474.1 L509.0,473.6 L511.0,473.2 L513.0,472.7 L515.0,472.2 L517.0,471.7 L519.0,471.2 L521.0,470.7 L523.0,470.2 L525.0,469.7 L527.0,469.1 L529.0,468.5 L531.0,468.0 L533.0,467.3 L535.0,466.7 L537.0,466.1 L539.0,465.4 L541.0,464.7 L543.0,464.0 L545.0,463.3 L547.0,462.6 L549.0,461.9 L551.0,461.1 L553.0,460.3 L555.0,459.5 L557.0,458.7 L559.0,457.9 L561.0,457.1 L563.0,456.3 L565.0,455.5 L567.0,454.6 L569.0,453.8 L571.0,452.9 L573.0,452.1 L575.0,451.2 L577.0,450.3 L579.0,449.5 L581.0,448.6 L583.0,447.8 L585.0,446.9 L587.0,446.1 L589.0,445.2 L591.0,444.4 L593.0,443.5 L595.0,442.7 L597.0,441.9 L599.0,441.0 L601.0,440.2 L603.0,439.4 L605.0,438.7 L607.0,437.9 L609.0,437.1 L611.0,436.4 L613.0,435.6 L615.0,434.9 L617.0,434.2 L619.0,433.6 L621.0,432.9 L623.0,432.3 L625.0,431.6 L627.0,431.0 L629.0,430.5 L631.0,429.9 L633.0,429.3 L635.0,428.8 L637.0,428.3 L639.0,427.8 L641.0,427.2 L643.0,426.7 L645.0,426.2 L647.0,425.8 L649.0,425.3 L651.0,424.8 L653.0,424.3 L655.0,423.8 L657.0,423.3 L659.0,422.8 L661.0,422.3 L663.0,421.8 L665.0,421.2 L667.0,420.7 L669.0,420.1 L671.0,419.6 L673.0,419.0 L675.0,418.4 L677.0,417.8 L679.0,417.1 L681.0,416.5 L683.0,415.8 L685.0,415.1 L687.0,414.3 L689.0,413.6 L691.0,412.8 L693.0,411.9 L695.0,411.1 L697.0,410.2 L699.0,409.3 L701.0,408.3 L703.0,407.3 L705.0,406.2 L707.0,405.1 L709.0,404.0 L711.0,402.8 L713.0,401.6 L715.0,400.4 L717.0,399.0 L719.0,397.7 L721.0,396.2 L723.0,394.8 L725.0,393.2 L727.0,391.6 L729.0,390.0 L731.0,388.3 L733.0,386.5 L735.0,384.6 L737.0,382.7 L739.0,380.7 L741.0,378.7 L743.0,376.5 L745.0,374.4 L747.0,372.1 L749.0,369.8 L751.0,367.4 L753.0,364.9 L755.0,362.4 L757.0,359.8 L759.0,357.2 L761.0,354.5 L763.0,351.8 L765.0,349.0 L767.0,346.2 L769.0,343.3 L771.0,340.4 L773.0,337.4 L775.0,334.4 L777.0,331.3 L779.0,328.2 L781.0,325.0 L783.0,321.8 L785.0,318.5 L787.0,315.2 L789.0,311.8 L791.0,308.4 L793.0,304.9 L795.0,301.4 L797.0,297.8 L799.0,294.2 L801.0,290.5 L803.0,286.8 L805.0,283.0 L807.0,279.2 L809.0,275.3 L811.0,271.3 L813.0,267.4 L815.0,263.3 L817.0,259.3 L819.0,255.1 L821.0,251.0 L823.0,246.8 L825.0,242.6 L827.0,238.3 L829.0,234.1 L831.0,229.9 L833.0,225.6 L835.0,221.4 L837.0,217.2 L839.0,213.0 L841.0,208.9 L843.0,204.7 L845.0,200.6 L847.0,196.5 L849.0,192.5 L851.0,188.4 L853.0,184.5 L855.0,180.5 L857.0,176.6 L859.0,172.7 L861.0,168.9 L863.0,165.2 L865.0,161.4 L867.0,157.8 L869.0,154.1 L871.0,150.6 L873.0,147.1 L875.0,143.6 L877.0,140.2 L879.0,136.9 L881.0,133.7 L883.0,130.5 L885.0,127.4 L887.0,124.4 L889.0,121.4 L891.0,118.5 L893.0,115.7 L895.0,113.0 L897.0,110.4 L899.0,107.8 L901.0,105.4 L903.0,103.0 L905.0,100.7 L907.0,98.4 L909.0,96.3 L911.0,94.2 L913.0,92.2 L915.0,90.2 L917.0,88.3 L919.0,86.5 L921.0,84.7 L923.0,83.0 L925.0,81.4 L927.0,79.8 L929.0,78.3 L931.0,76.9 L933.0,75.5 L935.0,74.1 L937.0,72.8 L939.0,71.6 L941.0,70.4 L943.0,69.3 L945.0,68.2 L947.0,67.1 L949.0,66.1 L951.0,65.2 L953.0,64.2 L955.0,63.4 L957.0,62.6 L959.0,61.8 L961.0,61.1 L963.0,60.4 L965.0,59.7 L967.0,59.1 L969.0,58.6 L971.0,58.1 L973.0,57.7 L975.0,57.3 L977.0,57.0 L979.0,56.7 L981.0,56.4 L983.0,56.2 L985.0,56.1 L987.0,56.0 L989.0,56.0 L991.0,56.0 L993.0,56.1 L995.0,56.2 L997.0,56.4 L999.0,56.6 L1001.0,56.9 L1003.0,57.2 L1005.0,57.6 L1007.0,58.1 L1009.0,58.6 L1011.0,59.2 L1013.0,59.9 L1015.0,60.6 L1017.0,61.3 L1019.0,62.2 L1021.0,63.0 L1023.0,64.0 L1025.0,65.0 L1027.0,66.1 L1029.0,67.3 L1031.0,68.5 L1033.0,69.8 L1035.0,71.2 L1037.0,72.6 L1039.0,74.1 L1041.0,75.7 L1043.0,77.4 L1045.0,79.1 L1047.0,80.9 L1049.0,82.8 L1051.0,84.8 L1053.0,86.8 L1055.0,88.9 L1057.0,91.1 L1059.0,93.3 L1061.0,95.6 L1063.0,97.9 L1065.0,100.3 L1067.0,102.7 L1069.0,105.1 L1071.0,107.6 L1073.0,110.1 L1075.0,112.7 L1077.0,115.2 L1079.0,117.8 L1081.0,120.4 L1083.0,123.1 L1085.0,125.7 L1087.0,128.3 L1089.0,131.0 L1091.0,133.6 L1093.0,136.3 L1095.0,138.9 L1097.0,141.5 L1099.0,144.1 L1101.0,146.7 L1103.0,149.3 L1105.0,151.8 L1107.0,154.3 L1109.0,156.8 L1111.0,159.2 L1113.0,161.6 L1115.0,164.0 L1117.0,166.4 L1119.0,168.7 L1121.0,171.0 L1123.0,173.2 L1125.0,175.4 L1127.0,177.6 L1129.0,179.8 L1131.0,181.9 L1133.0,184.0 L1135.0,186.1 L1137.0,188.1 L1139.0,190.1 L1141.0,192.1 L1143.0,194.0 L1145.0,196.0 L1147.0,197.8 L1149.0,199.7 L1151.0,201.5 L1153.0,203.3 L1155.0,205.1 L1157.0,206.8 L1159.0,208.5 L1161.0,210.2 L1163.0,211.8 L1165.0,213.5 L1167.0,215.1 L1169.0,216.6 L1171.0,218.2 L1173.0,219.7 L1175.0,221.1 L1177.0,222.6 L1179.0,224.0 L1181.0,225.4 L1183.0,226.8 L1185.0,228.1 L1187.0,229.4 L1189.0,230.7 L1191.0,232.0 L1193.0,233.2 L1195.0,234.4 L1197.0,235.6 L1199.0,236.7 L1201.0,237.8 L1203.0,238.9 L1205.0,240.0 L1207.0,241.1 L1209.0,242.1 L1211.0,243.1 L1213.0,244.0 L1215.0,245.0 L1217.0,245.9 L1219.0,246.8 L1221.0,247.6 L1223.0,248.5 L1225.0,249.3 L1227.0,250.1 L1229.0,250.8 L1231.0,251.6 L1233.0,252.3 L1235.0,253.0 L1237.0,253.6 L1239.0,254.3 L1241.0,254.9 L1243.0,255.5 L1245.0,256.1 L1247.0,256.6 L1249.0,257.1" fill="none" stroke="#111" stroke-width="3.3" stroke-linejoin="round"/>
<path d="M155.5,573.4 L160.5,579.8 L155.5,586.2 L150.5,579.8 Z" fill="none" stroke="#444" stroke-width="1.7"/>
<path d="M177.2,571.9 L182.2,578.3 L177.2,584.7 L172.2,578.3 Z" fill="none" stroke="#444" stroke-width="1.7"/>
<path d="M199.0,570.9 L204.0,577.3 L199.0,583.7 L194.0,577.3 Z" fill="none" stroke="#444" stroke-width="1.7"/>
<path d="M220.7,569.9 L225.7,576.3 L220.7,582.7 L215.7,576.3 Z" fill="none" stroke="#444" stroke-width="1.7"/>
<path d="M242.5,568.5 L247.5,574.9 L242.5,581.3 L237.5,574.9 Z" fill="none" stroke="#444" stroke-width="1.7"/>
<path d="M264.2,566.1 L269.2,572.5 L264.2,578.9 L259.2,572.5 Z" fill="none" stroke="#444" stroke-width="1.7"/>
<path d="M285.9,562.5 L290.9,568.9 L285.9,575.3 L280.9,568.9 Z" fill="none" stroke="#444" stroke-width="1.7"/>
<path d="M307.7,557.0 L312.7,563.4 L307.7,569.8 L302.7,563.4 Z" fill="none" stroke="#444" stroke-width="1.7"/>
<path d="M329.4,549.4 L334.4,555.8 L329.4,562.2 L324.4,555.8 Z" fill="none" stroke="#444" stroke-width="1.7"/>
<path d="M351.2,539.3 L356.2,545.7 L351.2,552.1 L346.2,545.7 Z" fill="none" stroke="#444" stroke-width="1.7"/>
<path d="M372.9,527.2 L377.9,533.6 L372.9,540.0 L367.9,533.6 Z" fill="none" stroke="#444" stroke-width="1.7"/>
<path d="M394.6,513.3 L399.6,519.7 L394.6,526.1 L389.6,519.7 Z" fill="none" stroke="#444" stroke-width="1.7"/>
<path d="M416.4,498.3 L421.4,504.7 L416.4,511.1 L411.4,504.7 Z" fill="none" stroke="#444" stroke-width="1.7"/>
<path d="M438.1,485.7 L443.1,492.1 L438.1,498.5 L433.1,492.1 Z" fill="none" stroke="#444" stroke-width="1.7"/>
<path d="M459.9,478.6 L464.9,485.0 L459.9,491.4 L454.9,485.0 Z" fill="none" stroke="#444" stroke-width="1.7"/>
<path d="M481.6,473.8 L486.6,480.2 L481.6,486.6 L476.6,480.2 Z" fill="none" stroke="#444" stroke-width="1.7"/>
<path d="M503.3,469.5 L508.3,475.9 L503.3,482.3 L498.3,475.9 Z" fill="none" stroke="#444" stroke-width="1.7"/>
<path d="M525.1,464.2 L530.1,470.6 L525.1,477.0 L520.1,470.6 Z" fill="none" stroke="#444" stroke-width="1.7"/>
<path d="M546.8,457.3 L551.8,463.7 L546.8,470.1 L541.8,463.7 Z" fill="none" stroke="#444" stroke-width="1.7"/>
<path d="M568.6,448.6 L573.6,455.0 L568.6,461.4 L563.6,455.0 Z" fill="none" stroke="#444" stroke-width="1.7"/>
<path d="M590.3,439.3 L595.3,445.7 L590.3,452.1 L585.3,445.7 Z" fill="none" stroke="#444" stroke-width="1.7"/>
<path d="M612.0,430.6 L617.0,437.0 L612.0,443.4 L607.0,437.0 Z" fill="none" stroke="#444" stroke-width="1.7"/>
<path d="M633.8,423.7 L638.8,430.1 L633.8,436.5 L628.8,430.1 Z" fill="none" stroke="#444" stroke-width="1.7"/>
<path d="M655.5,418.3 L660.5,424.7 L655.5,431.1 L650.5,424.7 Z" fill="none" stroke="#444" stroke-width="1.7"/>
<path d="M677.3,412.3 L682.3,418.7 L677.3,425.1 L672.3,418.7 Z" fill="none" stroke="#444" stroke-width="1.7"/>
<path d="M699.0,403.9 L704.0,410.3 L699.0,416.7 L694.0,410.3 Z" fill="none" stroke="#444" stroke-width="1.7"/>
<path d="M720.7,391.0 L725.7,397.4 L720.7,403.8 L715.7,397.4 Z" fill="none" stroke="#444" stroke-width="1.7"/>
<path d="M742.5,371.7 L747.5,378.1 L742.5,384.5 L737.5,378.1 Z" fill="none" stroke="#444" stroke-width="1.7"/>
<path d="M764.2,344.7 L769.2,351.1 L764.2,357.5 L759.2,351.1 Z" fill="none" stroke="#444" stroke-width="1.7"/>
<path d="M786.0,311.6 L791.0,318.0 L786.0,324.4 L781.0,318.0 Z" fill="none" stroke="#444" stroke-width="1.7"/>
<path d="M807.7,272.4 L812.7,278.8 L807.7,285.2 L802.7,278.8 Z" fill="none" stroke="#444" stroke-width="1.7"/>
<path d="M829.4,227.8 L834.4,234.2 L829.4,240.6 L824.4,234.2 Z" fill="none" stroke="#444" stroke-width="1.7"/>
<path d="M851.2,182.7 L856.2,189.1 L851.2,195.5 L846.2,189.1 Z" fill="none" stroke="#444" stroke-width="1.7"/>
<path d="M872.9,141.8 L877.9,148.2 L872.9,154.6 L867.9,148.2 Z" fill="none" stroke="#444" stroke-width="1.7"/>
<path d="M894.7,108.1 L899.7,114.5 L894.7,120.9 L889.7,114.5 Z" fill="none" stroke="#444" stroke-width="1.7"/>
<path d="M916.4,83.5 L921.4,89.9 L916.4,96.3 L911.4,89.9 Z" fill="none" stroke="#444" stroke-width="1.7"/>
<path d="M938.1,66.7 L943.1,73.1 L938.1,79.5 L933.1,73.1 Z" fill="none" stroke="#444" stroke-width="1.7"/>
<path d="M959.9,56.1 L964.9,62.5 L959.9,68.9 L954.9,62.5 Z" fill="none" stroke="#444" stroke-width="1.7"/>
<path d="M981.6,51.0 L986.6,57.4 L981.6,63.8 L976.6,57.4 Z" fill="none" stroke="#444" stroke-width="1.7"/>
<path d="M1003.4,51.9 L1008.4,58.3 L1003.4,64.7 L998.4,58.3 Z" fill="none" stroke="#444" stroke-width="1.7"/>
<path d="M1025.1,59.7 L1030.1,66.1 L1025.1,72.5 L1020.1,66.1 Z" fill="none" stroke="#444" stroke-width="1.7"/>
<path d="M1046.8,75.4 L1051.8,81.8 L1046.8,88.2 L1041.8,81.8 Z" fill="none" stroke="#444" stroke-width="1.7"/>
<path d="M1068.6,99.2 L1073.6,105.6 L1068.6,112.0 L1063.6,105.6 Z" fill="none" stroke="#444" stroke-width="1.7"/>
<path d="M1090.3,127.3 L1095.3,133.7 L1090.3,140.1 L1085.3,133.7 Z" fill="none" stroke="#444" stroke-width="1.7"/>
<path d="M1112.1,155.1 L1117.1,161.5 L1112.1,167.9 L1107.1,161.5 Z" fill="none" stroke="#444" stroke-width="1.7"/>
<path d="M1133.8,179.4 L1138.8,185.8 L1133.8,192.2 L1128.8,185.8 Z" fill="none" stroke="#444" stroke-width="1.7"/>
<path d="M1155.5,200.2 L1160.5,206.6 L1155.5,213.0 L1150.5,206.6 Z" fill="none" stroke="#444" stroke-width="1.7"/>
<path d="M1177.3,217.4 L1182.3,223.8 L1177.3,230.2 L1172.3,223.8 Z" fill="none" stroke="#444" stroke-width="1.7"/>
<path d="M1199.0,231.3 L1204.0,237.7 L1199.0,244.1 L1194.0,237.7 Z" fill="none" stroke="#444" stroke-width="1.7"/>
<path d="M1220.8,242.1 L1225.8,248.5 L1220.8,254.9 L1215.8,248.5 Z" fill="none" stroke="#444" stroke-width="1.7"/>
<path d="M1242.5,250.0 L1247.5,256.4 L1242.5,262.8 L1237.5,256.4 Z" fill="none" stroke="#444" stroke-width="1.7"/>
<rect x="152.7" y="14.3" width="1091.3" height="580.3" fill="none" stroke="#000" stroke-width="4.5"/>
<line x1="152.7" y1="536.6" x2="165.2" y2="536.6" stroke="#000" stroke-width="4"/>
<line x1="152.7" y1="478.5" x2="165.2" y2="478.5" stroke="#000" stroke-width="4"/>
<line x1="152.7" y1="420.5" x2="165.2" y2="420.5" stroke="#000" stroke-width="4"/>
<line x1="152.7" y1="362.5" x2="165.2" y2="362.5" stroke="#000" stroke-width="4"/>
<line x1="152.7" y1="304.4" x2="165.2" y2="304.4" stroke="#000" stroke-width="4"/>
<line x1="152.7" y1="246.4" x2="165.2" y2="246.4" stroke="#000" stroke-width="4"/>
<line x1="152.7" y1="188.4" x2="165.2" y2="188.4" stroke="#000" stroke-width="4"/>
<line x1="152.7" y1="130.4" x2="165.2" y2="130.4" stroke="#000" stroke-width="4"/>
<line x1="152.7" y1="72.3" x2="165.2" y2="72.3" stroke="#000" stroke-width="4"/>
<line x1="425.5" y1="594.6" x2="425.5" y2="580.6" stroke="#000" stroke-width="4"/>
<line x1="698.3" y1="594.6" x2="698.3" y2="580.6" stroke="#000" stroke-width="4"/>
<line x1="971.2" y1="594.6" x2="971.2" y2="580.6" stroke="#000" stroke-width="4"/>
<text x="113.5" y="607.6" font-size="37" text-anchor="end" fill="#262626">0.0</text>
<text x="113.5" y="549.3" font-size="37" text-anchor="end" fill="#262626">0.2</text>
<text x="113.5" y="491.1" font-size="37" text-anchor="end" fill="#262626">0.4</text>
<text x="113.5" y="432.8" font-size="37" text-anchor="end" fill="#262626">0.6</text>
<text x="113.5" y="374.6" font-size="37" text-anchor="end" fill="#262626">0.8</text>
<text x="113.5" y="316.3" font-size="37" text-anchor="end" fill="#262626">1.0</text>
<text x="113.5" y="258.0" font-size="37" text-anchor="end" fill="#262626">1.2</text>
<text x="113.5" y="199.8" font-size="37" text-anchor="end" fill="#262626">1.4</text>
<text x="113.5" y="141.5" font-size="37" text-anchor="end" fill="#262626">1.6</text>
<text x="113.5" y="83.3" font-size="37" text-anchor="end" fill="#262626">1.8</text>
<text x="113.5" y="25.0" font-size="37" text-anchor="end" fill="#262626">2.0</text>
<text x="147.2" y="660.5" font-size="37" text-anchor="middle" fill="#262626">6543</text>
<text x="420.0" y="660.5" font-size="37" text-anchor="middle" fill="#262626">6548</text>
<text x="692.8" y="660.5" font-size="37" text-anchor="middle" fill="#262626">6553</text>
<text x="965.7" y="660.5" font-size="37" text-anchor="middle" fill="#262626">6558</text>
<text x="1238.5" y="660.5" font-size="37" text-anchor="middle" fill="#262626">6563</text>
<text x="690.8" y="725.3" font-size="37" text-anchor="middle" fill="#262626">Energy(eV)</text>
<text transform="translate(28,303) rotate(-90)" x="0" y="0" font-size="37" text-anchor="middle" fill="#262626">Normalized intensity (a.u.)</text>
<rect x="181" y="29" width="252.2" height="177.8" fill="#fff" stroke="#000" stroke-width="3"/>
<text x="230.5" y="72" font-size="37" fill="#262626">pristine</text>
<text x="230.5" y="126.5" font-size="37" fill="#262626">charged</text>
<text x="230.5" y="180" font-size="37" fill="#262626">discharged</text>
<path d="M207,57.5 L214.5,65 L207,72.5 L199.5,65 Z" fill="none" stroke="#333" stroke-width="2"/>
<text x="207" y="126.5" font-size="37" text-anchor="middle" fill="#262626">x</text>
<path d="M208,160.5 L218.5,181 L197.5,181 Z" fill="#000"/>
<text x="661" y="50.8" font-size="37" fill="#262626">pristine Li<tspan font-size="26" dy="8">2</tspan><tspan dy="-8">MnO</tspan><tspan font-size="26" dy="8">3</tspan></text>
<line x1="391" y1="384" x2="391" y2="582" stroke="#000" stroke-width="5" stroke-dasharray="15.5 10.5"/>
<line x1="440" y1="384" x2="440" y2="582" stroke="#000" stroke-width="5" stroke-dasharray="15.5 10.5"/>
<line x1="454" y1="384" x2="454" y2="582" stroke="#000" stroke-width="5" stroke-dasharray="15.5 10.5"/>
<line x1="241" y1="479.5" x2="542" y2="479.5" stroke="#000" stroke-width="5" stroke-dasharray="15.5 10.5"/>
<line x1="988.7" y1="20.5" x2="988.7" y2="343" stroke="#000" stroke-width="5" stroke-dasharray="15.5 10.5"/>
<line x1="1011.2" y1="90" x2="1011.2" y2="412" stroke="#000" stroke-width="6" stroke-dasharray="15.5 10.5"/>
<line x1="1062.5" y1="19" x2="1062.5" y2="412" stroke="#000" stroke-width="5" stroke-dasharray="15.5 10.5"/>
<path d="M451,400 L407,400 L407,390 L396,406.5 L407,422.5 L407,413.3 L451,413.3 Z" fill="#fff" stroke="#000" stroke-width="3" stroke-linejoin="round"/>
<path d="M988,325.5 L1043.5,325.5 L1043.5,319 L1061,331.8 L1043.5,344.5 L1043.5,338.5 L988,338.5 Z" fill="#fff" stroke="#000" stroke-width="3" stroke-linejoin="round"/>
<path d="M1063,377 L1025.5,377 L1025.5,369.5 L1012.5,384 L1025.5,399 L1025.5,390.5 L1063,390.5 Z" fill="#fff" stroke="#000" stroke-width="3" stroke-linejoin="round"/>
<text x="242" y="353.8" font-size="37" fill="#2f8651">discharge</text>
<text x="422" y="353.8" font-size="37" fill="#dc3848">charge</text>
<text x="1092" y="342.8" font-size="37" fill="#dc3848">charge</text>
<text x="1011" y="456.6" font-size="37" fill="#2f8651">discharge</text>
</svg></body></html>
